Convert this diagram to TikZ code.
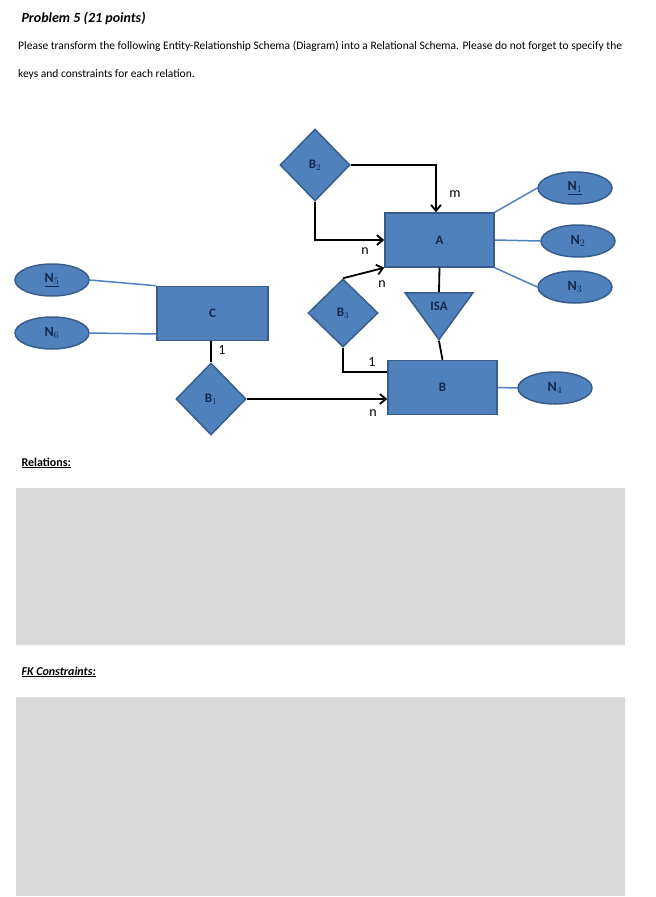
\documentclass[tikz,border=0pt]{standalone}
\usepackage{fontspec}
\setmainfont{Carlito}
\usetikzlibrary{shapes.geometric}
\definecolor{fillb}{HTML}{4F81BD}
\definecolor{edgeb}{HTML}{385D8A}
\definecolor{txtb}{HTML}{13284D}
\definecolor{attl}{HTML}{4F81BD}
\definecolor{boxg}{HTML}{D9D9D9}
\begin{document}
\begin{tikzpicture}[x=1pt,y=-1pt,
  ent/.style={draw=edgeb,line width=1.5pt,fill=fillb,minimum width=109pt,minimum height=54pt,inner sep=0,font=\fontsize{13}{13}\selectfont\bfseries,text=txtb},
  rel/.style={diamond,draw=edgeb,line width=1.5pt,fill=fillb,minimum width=70pt,minimum height=72pt,inner sep=0,font=\fontsize{13}{13}\selectfont\bfseries,text=txtb},
  att/.style={ellipse,draw=edgeb,line width=1.5pt,fill=fillb,minimum width=74pt,minimum height=32pt,inner sep=0,font=\fontsize{14}{14}\selectfont\bfseries,text=txtb},
  al/.style={attl,line width=1.5pt},
  cn/.style={black,line width=1.8pt},
  arr/.style={cn,-{Straight Barb[length=6pt,width=10pt]}},
  lab/.style={font=\fontsize{14}{14}\selectfont,inner sep=0}]
\useasboundingbox (0,0) rectangle (656,897);
\usetikzlibrary{arrows.meta}
% header
\node[anchor=west,font=\fontsize{14}{14}\selectfont\bfseries\itshape] (title) at (18,18) {Problem 5 (21 points)};
\node[anchor=north west,inner sep=0,font=\fontsize{11.5}{28}\selectfont] (para) at (18,41)
 {\parbox{604pt}{\baselineskip=28pt Please transform the following Entity-Relationship Schema (Diagram) into a Relational Schema. Please do not forget to specify the keys and constraints for each relation.}};
% entities
\node[ent] (A) at (439.5,240) {A};
\node[ent] (B) at (442.5,387.5) {B};
\node[ent,minimum width=111pt] (C) at (212.5,313.5) {C};
\node[rel] (B2) at (315,165) {B$_2$};
\node[rel,minimum height=68pt] (B3) at (343,313) {B$_3$};
\node[rel] (B1) at (211,399) {B$_1$};
\node[isosceles triangle,shape border rotate=-90,isosceles triangle apex angle=72,draw=edgeb,line width=1.5pt,fill=fillb,minimum width=68pt,inner sep=0,anchor=north] (ISA) at (439,292) {};
\node[font=\fontsize{13}{13}\selectfont\bfseries,text=txtb] (isat) at (439,306) {ISA};
% attributes
\node[att] (N1) at (575,188) {\underline{N$_1$}};
\node[att] (N2) at (578,241) {N$_2$};
\node[att] (N3) at (575,287) {N$_3$};
\node[att] (N4) at (555,388) {N$_4$};
\node[att] (N5) at (52,280) {\underline{N$_5$}};
\node[att] (N6) at (52,333) {N$_6$};
\begin{scope}[on background layer/.style={}]
\end{scope}
\draw[al] (N1.west) -- (A.north east);
\draw[al] (N2.west) -- (A.east);
\draw[al] (N3.west) -- (A.south east);
\draw[al] (N4.west) -- (B.east);
\draw[al] (N5.east) -- (C.north west);
\draw[al] (N6.east) -- (C.west |- 0,334);
% connectors
\draw[arr] (B2.east) -| (A.north -| 436,0);
\node[lab] (m) at (455,194) {m};
\draw[arr] (B2.south) |- (A.west);
\node[lab] (n1) at (365,251) {n};
\draw[arr] (B3.north) -- (A.south west);
\node[lab] (n2) at (382,284) {n};
\draw[cn] (B3.south) |- (B.west |- 0,372);
\node[lab] (o1) at (372,362) {1};
\draw[cn] (C.south -| 211,0) -- (B1.north);
\node[lab] (o2) at (222,350) {1};
\draw[arr] (B1.east) -- (B.west |- B1.east);
\node[lab] (n3) at (373,413) {n};
\draw[cn] (A.south) -- (ISA.north);
\draw[cn] (ISA.apex) -- (B.north);
% lower part
\node[anchor=west,font=\fontsize{12}{12}\selectfont\bfseries] (rel) at (18,463) {\underline{Relations:}};
\fill[boxg] (16,488) rectangle (625,645);
\node[anchor=west,font=\fontsize{12}{12}\selectfont\bfseries\itshape] (fk) at (18,672) {\underline{FK Constraints:}};
\fill[boxg] (16,697) rectangle (625,896);
\end{tikzpicture}
\end{document}
